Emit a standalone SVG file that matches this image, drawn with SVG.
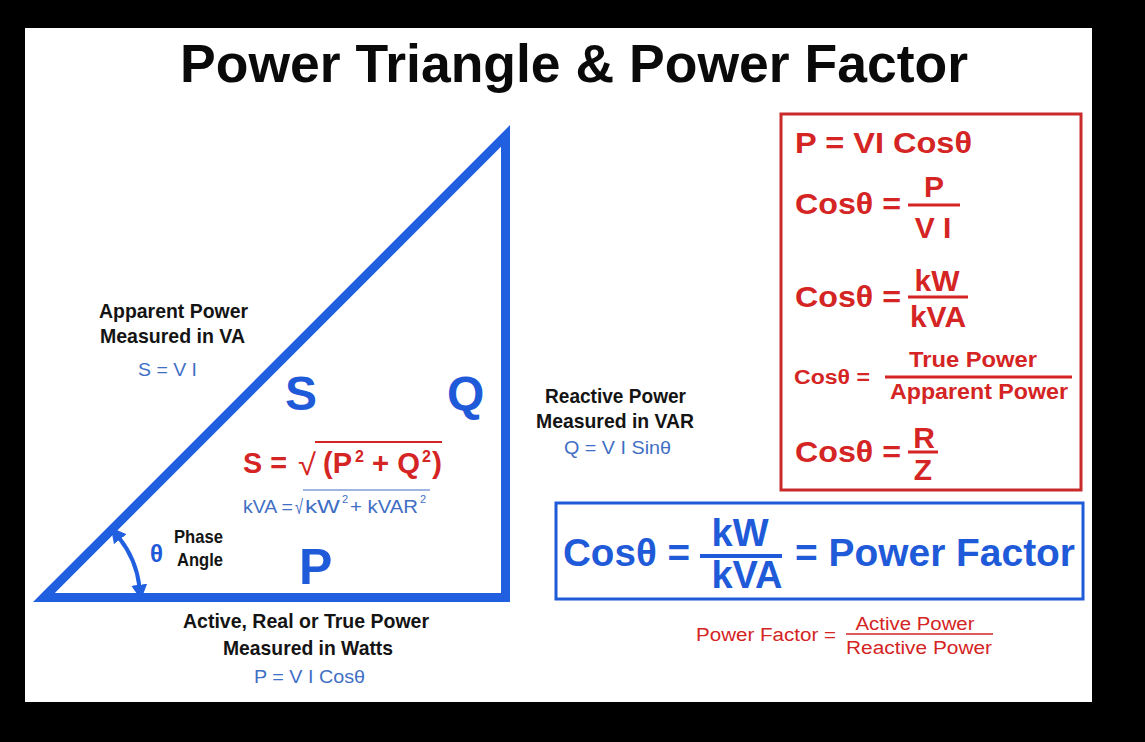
<svg xmlns="http://www.w3.org/2000/svg" width="1145" height="742" viewBox="0 0 1145 742">
<style>
text{font-family:"Liberation Sans",Arial,sans-serif}
.b{font-weight:bold}
.lbl{font-weight:bold;font-size:21px;fill:#141414}
.lb{font-size:19px;fill:#3f6fc4}
.big{font-weight:bold;font-size:48px;fill:#1f5ad8}
.red{fill:#d42424;font-weight:bold}
.blu{fill:#1f5ad8;font-weight:bold}
.rn{fill:#d42424}
.rl{stroke:#d42424;stroke-width:3}
</style>
<defs>
<marker id="ah" markerWidth="16" markerHeight="16" refX="1" refY="8" orient="auto-start-reverse" markerUnits="userSpaceOnUse">
<path d="M0,0 L15,8 L0,16 z" fill="#1f5fe0"/>
</marker>
</defs>
<rect width="1145" height="742" fill="#000"/>
<rect x="25" y="28" width="1067" height="674" fill="#fff"/>
<text id="title" class="b" x="180" y="82" font-size="53" textLength="788" lengthAdjust="spacingAndGlyphs" fill="#0a0a0a">Power Triangle &amp; Power Factor</text>

<g id="triangle">
<polygon points="43.9,597.5 505.5,135.9 505.5,597.5" fill="none" stroke="#1f5fe0" stroke-width="9" stroke-linejoin="miter"/>
<text class="big" x="285" y="410">S</text>
<text class="big" x="447" y="410">Q</text>
<text class="big" x="299" y="584" style="font-size:50px">P</text>
</g>

<g id="connectors">
<path d="M119.6,538.4 A96,96 0 0 1 139.3,585.8" fill="none" stroke="#1f5fe0" stroke-width="4" marker-start="url(#ah)" marker-end="url(#ah)"/>
</g>

<g id="angle">
<text class="b" x="150" y="562" fill="#1f5ad8" style="font-size:24px" textLength="13" lengthAdjust="spacingAndGlyphs">θ</text>
<text class="lbl" x="174" y="543" style="font-size:19px" textLength="49" lengthAdjust="spacingAndGlyphs">Phase</text>
<text class="lbl" x="177" y="566" style="font-size:19px" textLength="46" lengthAdjust="spacingAndGlyphs">Angle</text>
</g>

<g id="apparent">
<text class="lbl" x="99" y="318" textLength="149" lengthAdjust="spacingAndGlyphs">Apparent Power</text>
<text class="lbl" x="100" y="343" textLength="145" lengthAdjust="spacingAndGlyphs">Measured in VA</text>
<text class="lb" x="138" y="376" textLength="59" lengthAdjust="spacingAndGlyphs">S = V I</text>
</g>

<g id="s-formula">
<text class="red" x="243" y="473" font-size="29" textLength="44" lengthAdjust="spacingAndGlyphs">S =</text>
<text class="rn" x="298" y="475" font-size="30" textLength="18" lengthAdjust="spacingAndGlyphs">√</text>
<line x1="315" y1="442" x2="442" y2="442" stroke="#d42424" stroke-width="2"/>
<text class="red" x="323" y="473" font-size="29" textLength="29" lengthAdjust="spacingAndGlyphs">(P</text>
<text class="red" x="355" y="462" font-size="16">2</text>
<text class="red" x="372" y="473" font-size="29" textLength="48" lengthAdjust="spacingAndGlyphs">+ Q</text>
<text class="red" x="422" y="462" font-size="16">2</text>
<text class="red" x="432" y="473" font-size="29" textLength="10" lengthAdjust="spacingAndGlyphs">)</text>
<text class="lb" x="243" y="513" textLength="50" lengthAdjust="spacingAndGlyphs">kVA =</text>
<text class="lb" x="295" y="514" style="font-size:20px" textLength="8" lengthAdjust="spacingAndGlyphs">√</text>
<line x1="303" y1="490" x2="430" y2="490" stroke="#3f6fc4" stroke-width="1.2"/>
<text class="lb" x="305" y="513" textLength="35" lengthAdjust="spacingAndGlyphs">kW</text>
<text class="lb" x="342" y="503" style="font-size:11px">2</text>
<text class="lb" x="350" y="513" textLength="68" lengthAdjust="spacingAndGlyphs">+ kVAR</text>
<text class="lb" x="420" y="503" style="font-size:11px">2</text>
</g>

<g id="active">
<text class="lbl" x="183" y="628" textLength="246" lengthAdjust="spacingAndGlyphs">Active, Real or True Power</text>
<text class="lbl" x="223" y="655" textLength="170" lengthAdjust="spacingAndGlyphs">Measured in Watts</text>
<text class="lb" x="254" y="683" textLength="111" lengthAdjust="spacingAndGlyphs">P = V I Cosθ</text>
</g>

<g id="reactive">
<text class="lbl" x="545" y="403" textLength="141" lengthAdjust="spacingAndGlyphs">Reactive Power</text>
<text class="lbl" x="536" y="428" textLength="158" lengthAdjust="spacingAndGlyphs">Measured in VAR</text>
<text class="lb" x="564" y="454" textLength="107" lengthAdjust="spacingAndGlyphs">Q = V I Sinθ</text>
</g>

<g id="formula-box">
<rect x="781" y="114" width="300" height="376" fill="none" stroke="#c92a2a" stroke-width="3"/>
<text class="red" x="795" y="153" font-size="29" textLength="177" lengthAdjust="spacingAndGlyphs">P = VI Cosθ</text>
<text class="red" x="795" y="214" font-size="30" textLength="106" lengthAdjust="spacingAndGlyphs">Cosθ =</text>
<text class="red" x="934" y="197" font-size="30" text-anchor="middle">P</text>
<line class="rl" x1="908" y1="205" x2="960" y2="205"/>
<text class="red" x="933" y="238" font-size="30" text-anchor="middle">V I</text>
<text class="red" x="795" y="307" font-size="30" textLength="106" lengthAdjust="spacingAndGlyphs">Cosθ =</text>
<text class="red" x="937" y="291" font-size="30" text-anchor="middle">kW</text>
<line class="rl" x1="908" y1="297" x2="968" y2="297"/>
<text class="red" x="938" y="327" font-size="30" text-anchor="middle">kVA</text>
<text class="red" x="794" y="384" font-size="20" textLength="76" lengthAdjust="spacingAndGlyphs">Cosθ =</text>
<text class="red" x="909" y="367" font-size="22" textLength="128" lengthAdjust="spacingAndGlyphs">True Power</text>
<line class="rl" x1="885" y1="377" x2="1072" y2="377"/>
<text class="red" x="890" y="399" font-size="22" textLength="178" lengthAdjust="spacingAndGlyphs">Apparent Power</text>
<text class="red" x="795" y="462" font-size="30" textLength="106" lengthAdjust="spacingAndGlyphs">Cosθ =</text>
<text class="red" x="924" y="448" font-size="30" text-anchor="middle">R</text>
<line class="rl" x1="908" y1="452" x2="938" y2="452"/>
<text class="red" x="923" y="480" font-size="30" text-anchor="middle">Z</text>
</g>

<g id="pf-box">
<rect x="556" y="503" width="527" height="96" fill="none" stroke="#1f5ad8" stroke-width="3"/>
<text class="blu" x="563" y="566" font-size="38" textLength="127" lengthAdjust="spacingAndGlyphs">Cosθ =</text>
<text class="blu" x="740" y="546" font-size="38" text-anchor="middle">kW</text>
<line x1="700" y1="556" x2="782" y2="556" stroke="#1f5ad8" stroke-width="4"/>
<text class="blu" x="747" y="588" font-size="38" text-anchor="middle">kVA</text>
<text class="blu" x="795" y="566" font-size="38" textLength="280" lengthAdjust="spacingAndGlyphs">= Power Factor</text>
</g>

<g id="pf-def">
<text class="rn" x="696" y="641" font-size="18" textLength="140" lengthAdjust="spacingAndGlyphs">Power Factor =</text>
<text class="rn" x="915" y="630" font-size="18" text-anchor="middle" textLength="119" lengthAdjust="spacingAndGlyphs">Active Power</text>
<line x1="846" y1="634" x2="993" y2="634" stroke="#d42424" stroke-width="1.5"/>
<text class="rn" x="846" y="654" font-size="18" textLength="146" lengthAdjust="spacingAndGlyphs">Reactive Power</text>
</g>
</svg>
